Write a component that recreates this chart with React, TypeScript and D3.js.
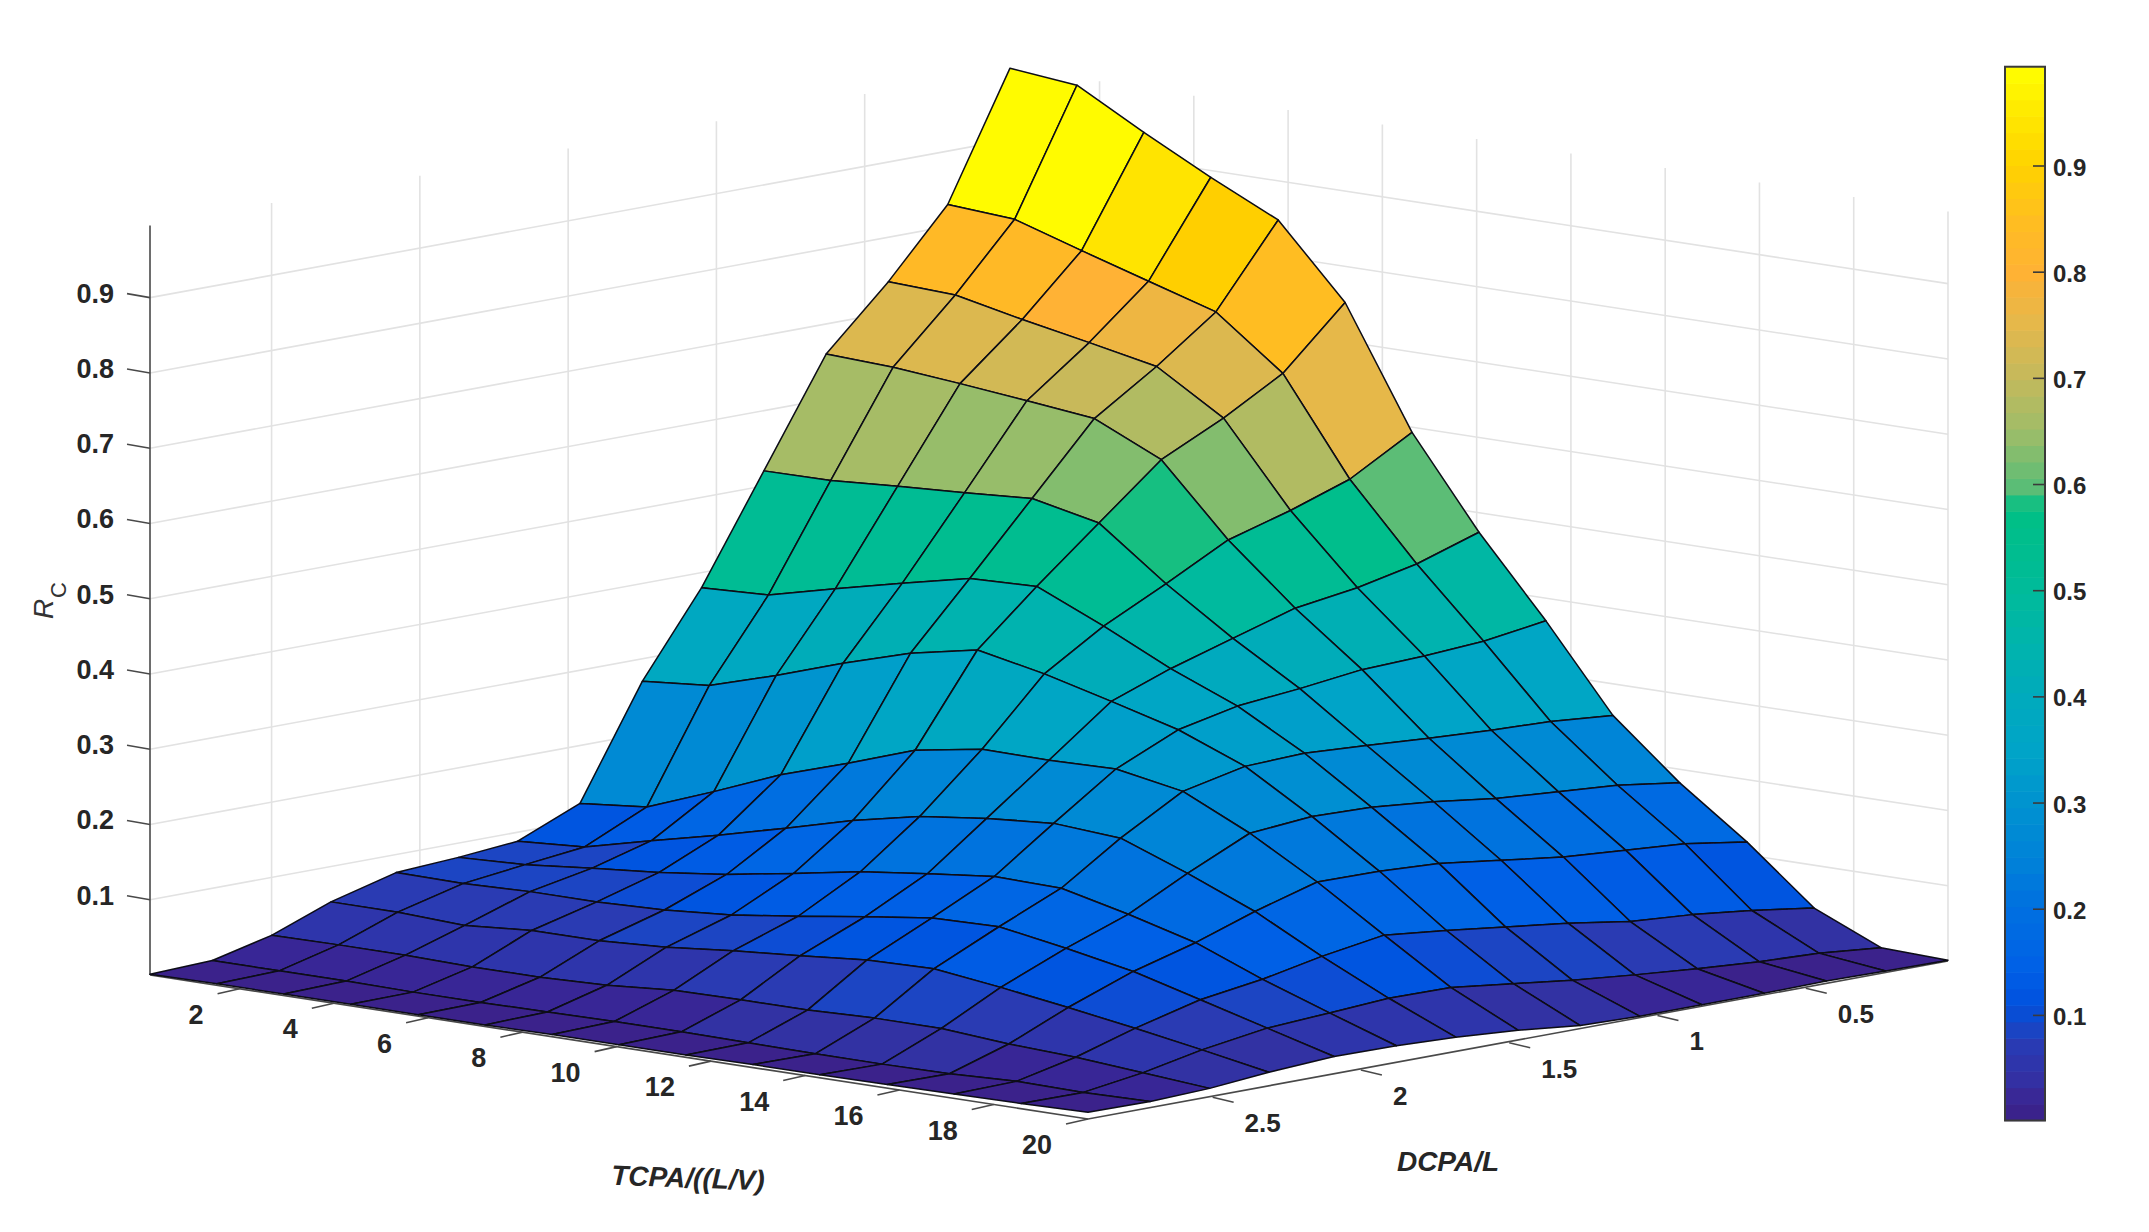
import React from "react";
import * as d3 from "d3";

// TCPA/(L/V) and DCPA/L sample positions of the surface
const tcpaGrid = [0.1, 1.52, 2.94, 4.36, 5.79, 7.21, 8.63, 10.05, 11.47, 12.89, 14.31, 15.74, 17.16, 18.58, 20];
const dcpaGrid = [2.9, 2.69, 2.49, 2.29, 2.07, 1.86, 1.66, 1.45, 1.24, 1.04, 0.83, 0.62, 0.41, 0.21, 0];

// Rc along TCPA, one list per DCPA sample
const rcD00 = [0.001, 0.002, 0.002, 0.002, 0.002, 0.002, 0.003, 0.003, 0.003, 0.004, 0.004, 0.005, 0.006, 0.007, 0.009];
const rcD01 = [0.004, 0.004, 0.004, 0.003, 0.003, 0.004, 0.005, 0.005, 0.004, 0.003, 0.003, 0.004, 0.0075, 0.0065, 0.008];
const rcD02 = [0.023, 0.024, 0.024, 0.022, 0.022, 0.025, 0.032, 0.033, 0.033, 0.036, 0.036, 0.029, 0.025, 0.018, 0.011];
const rcD03 = [0.053, 0.053, 0.049, 0.056, 0.056, 0.061, 0.07, 0.077, 0.085, 0.087, 0.076, 0.063, 0.049, 0.034, 0.018];
const rcD04 = [0.076, 0.075, 0.078, 0.078, 0.081, 0.088, 0.1, 0.113, 0.125, 0.127, 0.112, 0.095, 0.071, 0.047, 0.023];
const rcD05 = [0.081, 0.085, 0.094, 0.102, 0.113, 0.128, 0.144, 0.155, 0.165, 0.163, 0.142, 0.118, 0.083, 0.052, 0.022];
const rcD06 = [0.088, 0.094, 0.116, 0.137, 0.16, 0.184, 0.203, 0.214, 0.221, 0.215, 0.182, 0.145, 0.099, 0.057, 0.019];
const rcD07 = [0.123, 0.132, 0.166, 0.202, 0.231, 0.262, 0.277, 0.276, 0.278, 0.262, 0.22, 0.169, 0.112, 0.056, 0.013];
const rcD08 = [0.27, 0.278, 0.305, 0.335, 0.362, 0.38, 0.362, 0.339, 0.315, 0.28, 0.227, 0.168, 0.103, 0.046, 0.004];
const rcD09 = [0.38, 0.384, 0.406, 0.427, 0.447, 0.45, 0.411, 0.368, 0.332, 0.283, 0.225, 0.164, 0.093, 0.036, 0.002];
const rcD10 = [0.52, 0.521, 0.527, 0.532, 0.538, 0.519, 0.452, 0.393, 0.34, 0.278, 0.217, 0.153, 0.083, 0.028, 0.002];
const rcD11 = [0.66, 0.656, 0.648, 0.639, 0.629, 0.588, 0.495, 0.418, 0.35, 0.2725, 0.206, 0.142, 0.07, 0.021, 0.002];
const rcD12 = [0.741, 0.737, 0.718, 0.701, 0.683, 0.628, 0.519, 0.43, 0.353, 0.268, 0.2, 0.136, 0.064, 0.015, 0.003];
const rcD13 = [0.829, 0.823, 0.795, 0.768, 0.741, 0.673, 0.546, 0.447, 0.358, 0.265, 0.194, 0.13, 0.055, 0.012, 0.002];
const rcD14 = [0.995, 0.986, 0.937, 0.891, 0.848, 0.752, 0.593, 0.474, 0.37, 0.258, 0.182, 0.117, 0.043, 0.004, 0.001];
const rcRows = [rcD00, rcD01, rcD02, rcD03, rcD04, rcD05, rcD06, rcD07, rcD08, rcD09, rcD10, rcD11, rcD12, rcD13, rcD14];

// Axis ticks
const tcpaTicks = [2, 4, 6, 8, 10, 12, 14, 16, 18, 20];
const dcpaTicks = [2.5, 2, 1.5, 1, 0.5];
const rcTicks = [0.1, 0.2, 0.3, 0.4, 0.5, 0.6, 0.7, 0.8, 0.9];

// Colormap
const cmapValues = [0.001, 0.02, 0.04, 0.07, 0.083, 0.09, 0.1, 0.11, 0.12, 0.15, 0.2, 0.25, 0.3, 0.35, 0.4, 0.45, 0.5, 0.575, 0.585, 0.59, 0.6, 0.65, 0.7, 0.75, 0.8, 0.85, 0.9, 0.95, 0.9935];
const cmapColors = ["#3a1f86", "#3a2692", "#3330a3", "#2a3ab2", "#1f42be", "#1446c8", "#0a4cd2", "#0450dc", "#0056e2", "#0062e6", "#006fe0", "#0083d8", "#0093d0", "#00a4c8", "#00aabd", "#00b4ad", "#00bb9a", "#00c085", "#20bf80", "#50bd78", "#5ebd76", "#9ebd68", "#c4b95c", "#e4b84c", "#ffb234", "#ffbe20", "#ffd200", "#ffe900", "#ffff00"];
const cmapLevels = 64;

const tcpaToU = d3.scaleLinear().domain([0.1, 20]).range([0, 1]);
const dcpaToV = d3.scaleLinear().domain([2.9, 0]).range([0, 1]);
const zToPx = d3.scaleLinear().domain([0, 1]).range([0, 752.6]);
const colorRaw = d3.scaleLinear<string>().domain(cmapValues).range(cmapColors).interpolate(d3.interpolateRgb);
const cLo = cmapValues[0];
const cHi = cmapValues[cmapValues.length - 1];
const quant = (v: number) => {
  const k = Math.min(cmapLevels - 1, Math.max(0, Math.floor(((v - cLo) / (cHi - cLo)) * cmapLevels)));
  return cLo + ((k + 0.5) / cmapLevels) * (cHi - cLo);
};
const colorOf = (v: number) => colorRaw(quant(v));

const project = (t: number, d: number, z: number): [number, number] => {
  const u = tcpaToU(t);
  const v = dcpaToV(d);
  return [150 + 938 * u + 860 * v, 975 + 144 * u - 158 * v - zToPx(z)];
};

const line = d3.line();
const cbY = d3.scaleLinear().domain([0.1, 0.9]).range([1015.4, 166]);

const FONT = "'Liberation Sans', Arial, sans-serif";
const TXT = "#262626";
const GRID = "#e2e2e2";
const Z_TOP = 0.996;
const tMin = 0.1, tMax = 20, dMin = 0, dMax = 2.9;
const wallD = 0.01;

export default function App() {
  const faces: React.ReactNode[] = [];
  for (let j = dcpaGrid.length - 2; j >= 0; j--) {
    for (let i = 0; i < tcpaGrid.length - 1; i++) {
      const pts = [
        project(tcpaGrid[i], dcpaGrid[j], rcRows[j][i]),
        project(tcpaGrid[i + 1], dcpaGrid[j], rcRows[j][i + 1]),
        project(tcpaGrid[i + 1], dcpaGrid[j + 1], rcRows[j + 1][i + 1]),
        project(tcpaGrid[i], dcpaGrid[j + 1], rcRows[j + 1][i]),
      ];
      faces.push(
        <path key={`${i}-${j}`} d={line(pts) + "Z"} fill={colorOf(rcRows[j + 1][i])} stroke="#0a0a14" strokeWidth={1.5} strokeLinejoin="round" />
      );
    }
  }

  const bands = d3.range(cmapLevels);
  const bandH = (cbY(cLo) - cbY(cHi)) / cmapLevels;

  return (
    <svg width={2149} height={1232} style={{ position: "absolute", left: 0, top: 0, background: "#fff" }} fontFamily={FONT}>
      <defs>
        <filter id="soft" x="-2%" y="-2%" width="104%" height="104%">
          <feGaussianBlur stdDeviation="0.55" />
        </filter>
      </defs>

      {/* back-wall grid */}
      <g stroke={GRID} strokeWidth={1.6} fill="none" filter="url(#soft)">
        {rcTicks.map((z) => (
          <path key={`zg${z}`} d={line([project(tMin, dMax, z), project(tMin, dMin, z), project(tMax, dMin, z)]) as string} />
        ))}
        {dcpaTicks.map((d) => (
          <path key={`dg${d}`} d={line([project(tMin, d - wallD, 0), project(tMin, d - wallD, Z_TOP)]) as string} />
        ))}
        {tcpaTicks.map((t) => (
          <path key={`tg${t}`} d={line([project(t, dMin, 0), project(t, dMin, Z_TOP)]) as string} />
        ))}
      </g>

      {/* axes */}
      <g stroke="#4a4a4a" strokeWidth={1.6} fill="none" filter="url(#soft)">
        <path d={line([project(tMin, dMax, 0), project(tMin, dMax, Z_TOP)]) as string} />
        <path d={line([project(tMin, dMax, 0), project(tMax, dMax, 0), project(tMax, dMin, 0)]) as string} />
        {rcTicks.map((z) => {
          const [x, y] = project(tMin, dMax, z);
          return <path key={`zt${z}`} d={line([[x, y], [x - 23, y - 4]]) as string} />;
        })}
        {tcpaTicks.map((t) => {
          const [x, y] = project(t, dMax, 0);
          return <path key={`tt${t}`} d={line([[x, y], [x - 22, y + 5]]) as string} />;
        })}
        {dcpaTicks.map((d) => {
          const [x, y] = project(tMax, d, 0);
          return <path key={`dt${d}`} d={line([[x + 6, y], [x + 27, y + 5]]) as string} />;
        })}
      </g>

      {/* surface */}
      <g filter="url(#soft)">{faces}</g>

      {/* tick labels */}
      <g fill={TXT} fontWeight="bold" fontSize={27} textAnchor="end" dominantBaseline="central">
        {rcTicks.map((z) => {
          const [x, y] = project(tMin, dMax, z);
          return <text key={z} x={x - 36} y={y - 4}>{d3.format(".1f")(z)}</text>;
        })}
        {tcpaTicks.map((t) => {
          const [x, y] = project(t, dMax, 0);
          return <text key={t} x={x - 36} y={y + 26}>{t}</text>;
        })}
      </g>
      <g fill={TXT} fontWeight="bold" fontSize={26} textAnchor="start" dominantBaseline="central">
        {dcpaTicks.map((d) => {
          const [x, y] = project(tMax, d, 0);
          return <text key={d} x={x + 38} y={y + 26}>{d}</text>;
        })}
      </g>

      {/* axis titles */}
      <text x={688} y={1178} transform="rotate(2 688 1178)" fontSize={28} fontWeight="bold" fontStyle="italic" fill={TXT} textAnchor="middle" dominantBaseline="central">TCPA/((L/V)</text>
      <text x={1448} y={1161} fontSize={28} fontWeight="bold" fontStyle="italic" fill={TXT} textAnchor="middle" dominantBaseline="central">DCPA/L</text>
      <g fill="#333">
        <text transform="translate(52.5 619) rotate(-90)" fontSize={28} fontStyle="italic">R</text>
        <text transform="translate(66 598) rotate(-90)" fontSize={22}>C</text>
      </g>

      {/* colorbar */}
      <g>
        {bands.map((k) => {
          const v = cLo + ((k + 0.5) / cmapLevels) * (cHi - cLo);
          return <rect key={k} x={2005} y={cbY(cLo) - (k + 1) * bandH} width={40} height={bandH + 0.6} fill={colorRaw(v)} />;
        })}
        <rect x={2005} y={cbY(cHi)} width={40} height={cbY(cLo) - cbY(cHi)} fill="none" stroke="#3a3a3a" strokeWidth={2} />
        {rcTicks.map((z) => (
          <path key={z} d={line([[2033, cbY(z)], [2045, cbY(z)]]) as string} stroke="#3a3a3a" strokeWidth={1.6} />
        ))}
      </g>
      <g fill={TXT} fontWeight="bold" fontSize={24} dominantBaseline="central">
        {rcTicks.map((z) => (
          <text key={z} x={2053} y={cbY(z) + 1}>{d3.format(".1f")(z)}</text>
        ))}
      </g>
    </svg>
  );
}
